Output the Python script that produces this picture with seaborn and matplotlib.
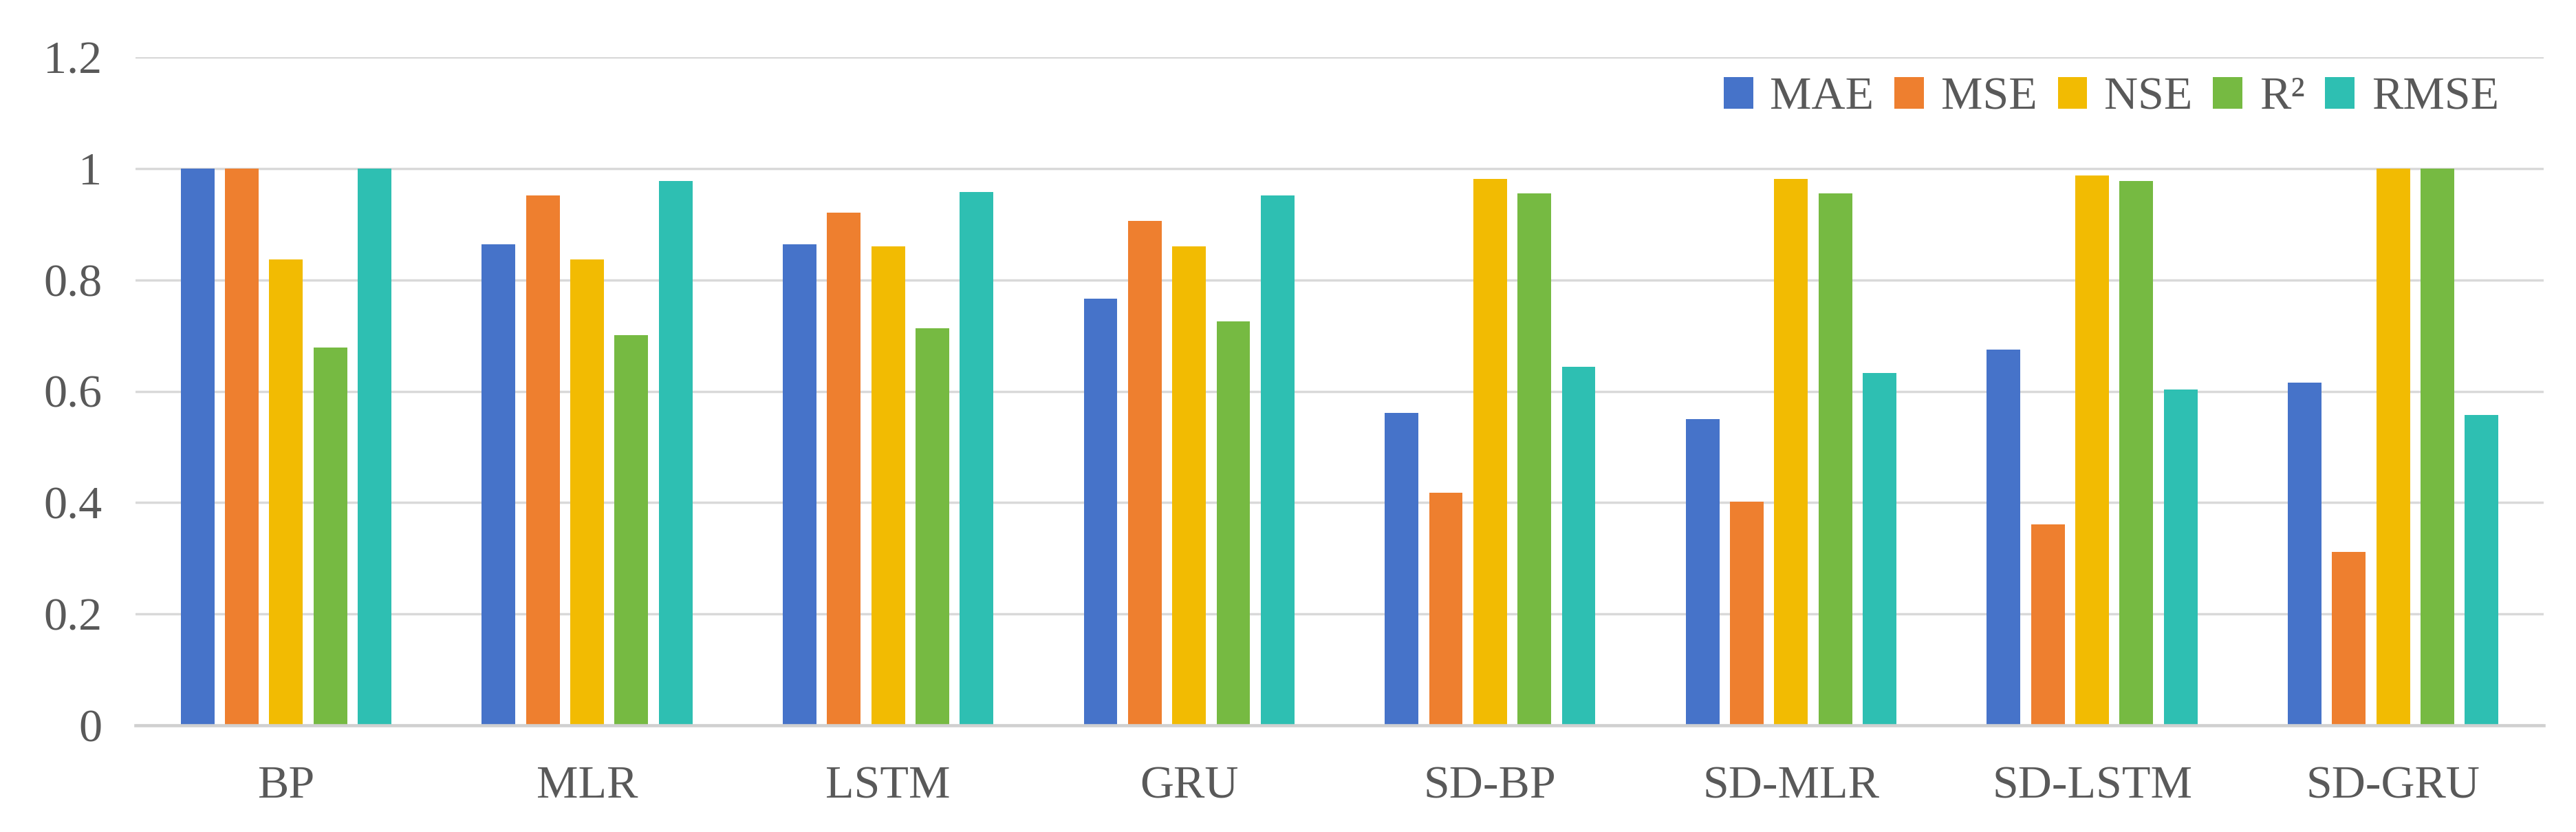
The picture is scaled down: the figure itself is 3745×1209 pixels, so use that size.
import matplotlib
matplotlib.use("Agg")
import matplotlib.pyplot as plt
import seaborn as sns
import pandas as pd

# ---- data ----
models = ["BP", "MLR", "LSTM", "GRU", "SD-BP", "SD-MLR", "SD-LSTM", "SD-GRU"]
metrics = ["MAE", "MSE", "NSE", "R²", "RMSE"]
mae = [1.000, 0.864, 0.864, 0.766, 0.561, 0.550, 0.675, 0.615]
mse = [1.000, 0.952, 0.921, 0.906, 0.418, 0.402, 0.361, 0.312]
nse = [0.837, 0.837, 0.860, 0.860, 0.981, 0.981, 0.988, 1.000]
r2 = [0.679, 0.701, 0.713, 0.725, 0.955, 0.955, 0.977, 1.000]
rmse = [1.000, 0.977, 0.958, 0.951, 0.644, 0.633, 0.603, 0.557]
yticks = [0, 0.2, 0.4, 0.6, 0.8, 1.0, 1.2]
ytick_labels = ["0", "0.2", "0.4", "0.6", "0.8", "1", "1.2"]

colors = ["#4673C9", "#EE7F2F", "#F2BB02", "#76BA42", "#2EBFB2"]

series = [mae, mse, nse, r2, rmse]
df = pd.DataFrame({
    "model": [m for s in series for m in models],
    "metric": [metrics[i] for i, s in enumerate(series) for _ in models],
    "value": [v for s in series for v in s],
})

sns.set_theme(style="white")
plt.rcParams["font.family"] = ["Liberation Serif", "DejaVu Serif"]

W, H, DPI = 3745, 1209, 100
fig = plt.figure(figsize=(W / DPI, H / DPI), dpi=DPI)
ax = fig.add_axes([197 / W, 1 - 1054 / H, (3698 - 197) / W, (1054 - 83) / H])

sns.barplot(data=df, x="model", y="value", hue="metric", order=models,
            hue_order=metrics, palette=colors, saturation=1,
            width=0.735, gap=0.24, linewidth=0, ax=ax, zorder=3)

ax.set_ylim(0, 1.2)
ax.set_xlim(-0.5, len(models) - 0.5)
ax.set_yticks(yticks)
ax.set_yticklabels(ytick_labels)
ax.set_xlabel("")
ax.set_ylabel("")
ax.yaxis.grid(True, color="#d9d9d9", linewidth=2.5, zorder=0)
ax.xaxis.grid(False)
ax.set_axisbelow(True)
for s in ["left", "right", "top"]:
    ax.spines[s].set_visible(False)
ax.spines["bottom"].set_color("#d0d0d0")
ax.spines["bottom"].set_linewidth(3.3)
ax.spines["bottom"].set_zorder(4)
ax.tick_params(axis="y", length=0, pad=35, labelsize=49, labelcolor="#595959")
ax.tick_params(axis="x", length=0, pad=42, labelsize=49, labelcolor="#595959")

h, l = ax.get_legend_handles_labels()
if ax.get_legend() is not None:
    ax.get_legend().remove()
fig.legend(h, l, loc="center left", bbox_to_anchor=(2506 / W, 1 - 142 / H),
           ncol=5, frameon=False, fontsize=49, labelcolor="#595959",
           handlelength=0.63, handleheight=0.66, handletextpad=0.36,
           columnspacing=0.44, borderpad=0, borderaxespad=0)

fig.savefig("out.png", dpi=DPI)
